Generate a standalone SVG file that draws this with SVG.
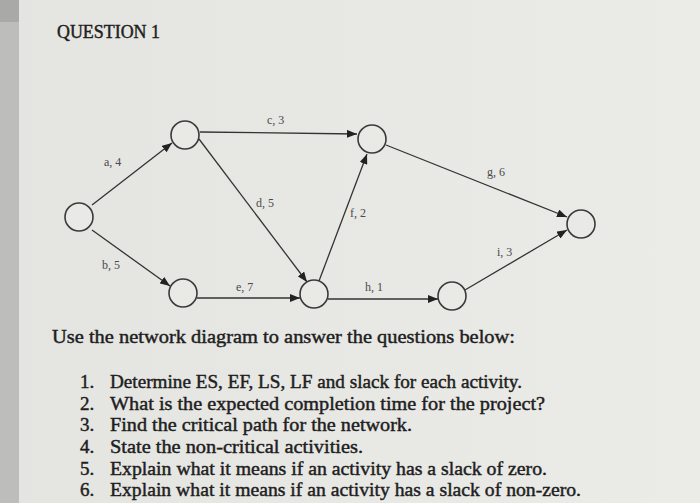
<svg xmlns="http://www.w3.org/2000/svg" width="700" height="503" viewBox="0 0 700 503">
<style>
.node{fill:#e9e9e6;stroke:#3a3a3a;stroke-width:1.6}
.edge{stroke:#333;stroke-width:1.3;fill:none;marker-end:url(#ah)}
.lbl{font-family:"Liberation Serif",serif;font-size:12px;fill:#4a4a4a}
.txt{font-family:"Liberation Serif",serif;font-size:19px;fill:#1e1e1e;stroke:#1e1e1e;stroke-width:0.45}
</style>
<defs>
<marker id="ah" viewBox="0 0 10 8" refX="10" refY="4" markerWidth="10" markerHeight="8" markerUnits="userSpaceOnUse" orient="auto">
<path d="M0,0 L10,4 L0,8 Z" fill="#222"/>
</marker>
<linearGradient id="bg" x1="0" y1="0" x2="1" y2="0">
<stop offset="0" stop-color="#e4e4e1"/>
<stop offset="1" stop-color="#ebebe8"/>
</linearGradient>
</defs>
<rect width="700" height="503" fill="url(#bg)"/>
<rect x="0" y="0" width="19" height="503" fill="#bdbdbb"/>
<rect x="0" y="0" width="19" height="22" fill="#a9a9a7"/>
<text class="txt" x="57" y="38" font-size="20" textLength="103" lengthAdjust="spacingAndGlyphs">QUESTION 1</text>
<g id="connectors">
<line class="edge" x1="92" y1="205" x2="172" y2="143"/>
<line class="edge" x1="92" y1="230" x2="170" y2="286"/>
<line class="edge" x1="200" y1="132" x2="357" y2="134"/>
<line class="edge" x1="199" y1="139" x2="307" y2="282"/>
<line class="edge" x1="197" y1="298" x2="300" y2="298"/>
<line class="edge" x1="319" y1="281" x2="367" y2="154"/>
<line class="edge" x1="386" y1="145" x2="567" y2="217"/>
<line class="edge" x1="328" y1="299" x2="438" y2="299"/>
<line class="edge" x1="465" y1="290" x2="567" y2="230"/>
</g>
<g id="labels">
<text class="lbl" x="267" y="124">c, 3</text>
<text class="lbl" x="104" y="166">a, 4</text>
<text class="lbl" x="256" y="207">d, 5</text>
<text class="lbl" x="350" y="217">f, 2</text>
<text class="lbl" x="487" y="176">g, 6</text>
<text class="lbl" x="102" y="269">b, 5</text>
<text class="lbl" x="236" y="291">e, 7</text>
<text class="lbl" x="365" y="291">h, 1</text>
<text class="lbl" x="497" y="256">i, 3</text>
</g>
<g id="n1"><circle class="node" cx="79" cy="217" r="14"/></g>
<g id="n2"><circle class="node" cx="185" cy="135" r="14"/></g>
<g id="n3"><circle class="node" cx="183" cy="293" r="14"/></g>
<g id="n4"><circle class="node" cx="314" cy="294" r="14"/></g>
<g id="n5"><circle class="node" cx="372" cy="139" r="14"/></g>
<g id="n6"><circle class="node" cx="452" cy="296" r="14"/></g>
<g id="n7"><circle class="node" cx="581" cy="224" r="14"/></g>
<text class="txt" x="52" y="343" textLength="463" lengthAdjust="spacingAndGlyphs">Use the network diagram to answer the questions below:</text>
<g class="txt">
<text x="80" y="388">1.</text><text x="110" y="388" textLength="412" lengthAdjust="spacingAndGlyphs">Determine ES, EF, LS, LF and slack for each activity.</text>
<text x="80" y="410">2.</text><text x="110" y="410" textLength="435" lengthAdjust="spacingAndGlyphs">What is the expected completion time for the project?</text>
<text x="80" y="431">3.</text><text x="110" y="431" textLength="302" lengthAdjust="spacingAndGlyphs">Find the critical path for the network.</text>
<text x="80" y="453">4.</text><text x="110" y="453" textLength="253" lengthAdjust="spacingAndGlyphs">State the non-critical activities.</text>
<text x="80" y="475">5.</text><text x="110" y="475" textLength="437" lengthAdjust="spacingAndGlyphs">Explain what it means if an activity has a slack of zero.</text>
<text x="80" y="496">6.</text><text x="110" y="496" textLength="471" lengthAdjust="spacingAndGlyphs">Explain what it means if an activity has a slack of non-zero.</text>
</g>
</svg>
